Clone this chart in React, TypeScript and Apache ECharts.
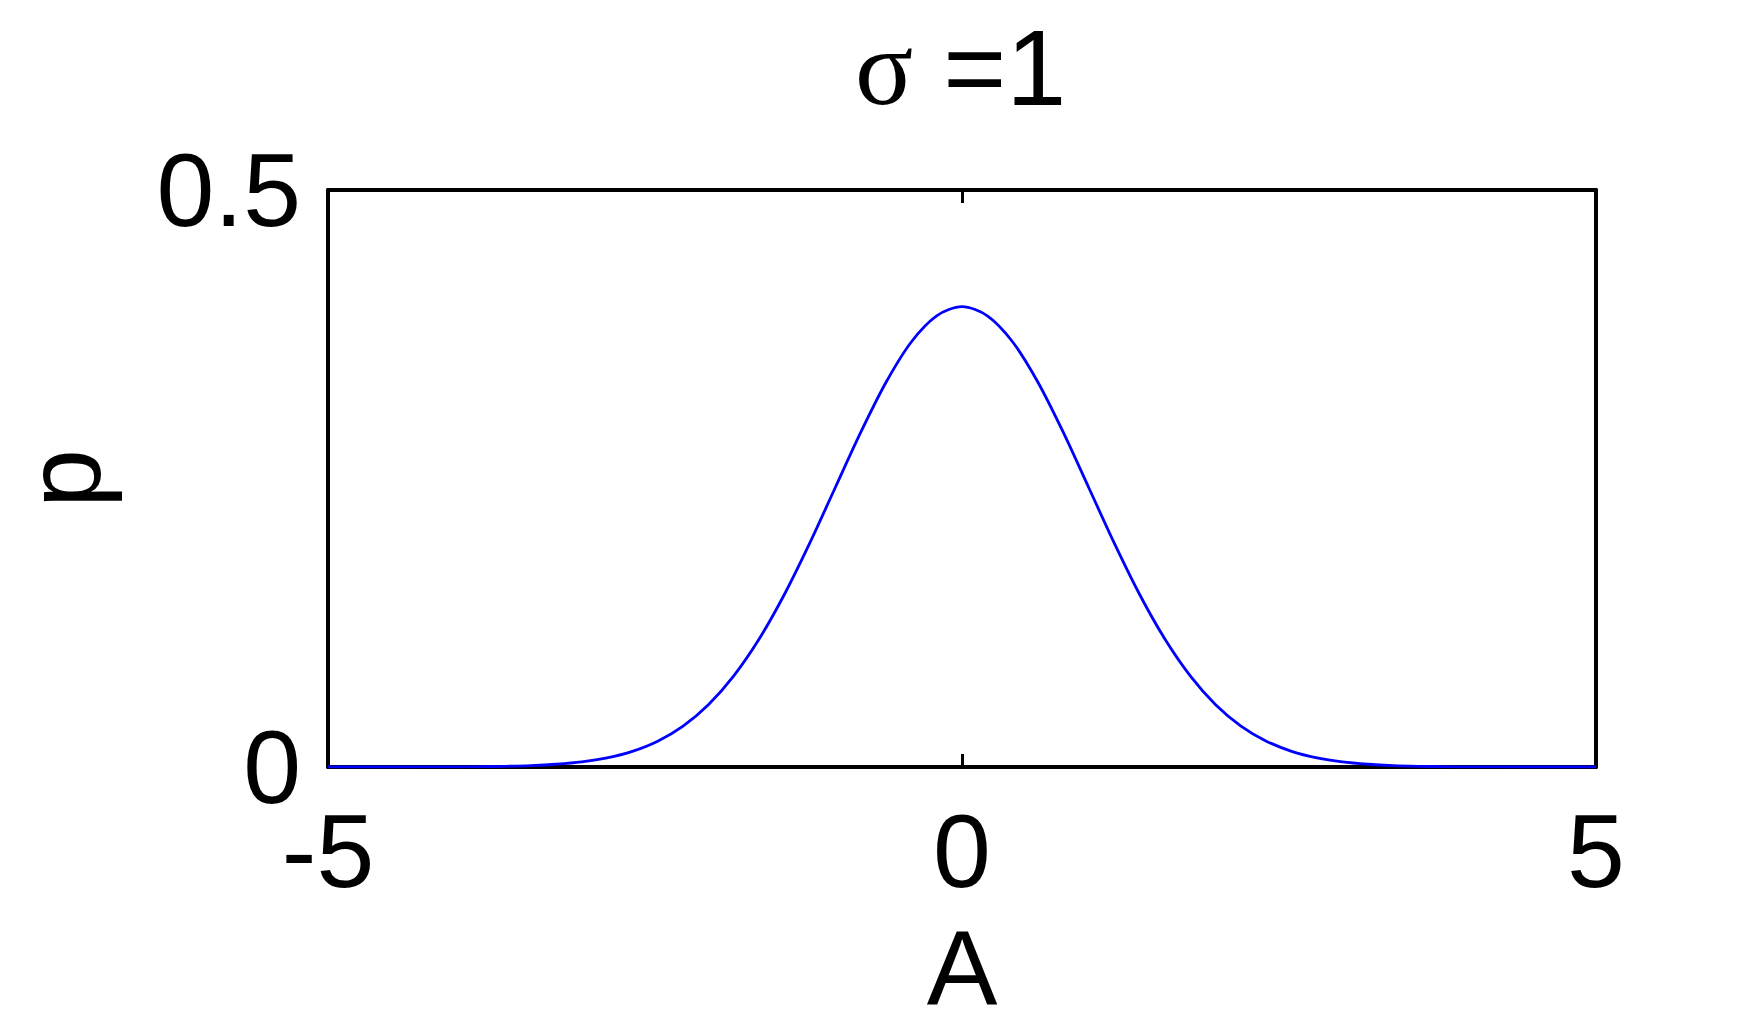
import * as echarts from 'echarts';
import { useEffect, useRef } from 'react';

// A values (x axis), step 0.2
const aValues = [
    -5.0, -4.8, -4.6, -4.4, -4.2, -4.0, -3.8, -3.6, -3.4, -3.2, -3.0, -2.8, -2.6, -2.4, -2.2, -2.0, -1.8,
    -1.6, -1.4, -1.2, -1.0, -0.8, -0.6, -0.4, -0.2, 0.0, 0.2, 0.4, 0.6, 0.8, 1.0, 1.2, 1.4, 1.6, 1.8, 2.0,
    2.2, 2.4, 2.6, 2.8, 3.0, 3.2, 3.4, 3.6, 3.8, 4.0, 4.2, 4.4, 4.6, 4.8, 5.0,
];

// p values
const pValues = [
    0.0, 0.0, 0.0, 0.0, 0.0001, 0.0001, 0.0003, 0.0006, 0.0012, 0.0024, 0.0044, 0.0079, 0.0136, 0.0224,
    0.0355, 0.054, 0.079, 0.1109, 0.1497, 0.1942, 0.242, 0.2897, 0.3332, 0.3683, 0.391, 0.3989, 0.391,
    0.3683, 0.3332, 0.2897, 0.242, 0.1942, 0.1497, 0.1109, 0.079, 0.054, 0.0355, 0.0224, 0.0136, 0.0079,
    0.0044, 0.0024, 0.0012, 0.0006, 0.0003, 0.0001, 0.0001, 0.0, 0.0, 0.0, 0.0,
];

const xTicks = [-5, 0, 5];
const yTicks = [0, 0.5];

const SANS = "'Liberation Sans', Arial, sans-serif";
const SERIF = "'Liberation Serif', 'Times New Roman', serif";

export default function App() {
    const chartRef = useRef<HTMLDivElement>(null);

    useEffect(() => {
        document.body.style.margin = '0';
        if (!chartRef.current) return;

        const chart = echarts.init(chartRef.current, null, { renderer: 'svg' });

        const axisLine = { show: true, onZero: false, lineStyle: { color: '#000', width: 4 } };
        const axisTick = { show: true, inside: true, length: 13, lineStyle: { color: '#000', width: 3 } };

        const option: echarts.EChartsOption = {
            animation: false,
            backgroundColor: '#fff',
            title: {
                text: '{s|σ}{n| =1}',
                left: 850,
                top: 8,
                textStyle: {
                    rich: {
                        s: { fontFamily: SERIF, fontSize: 108, fontWeight: 'normal', color: '#000' },
                        n: { fontFamily: SANS, fontSize: 108, fontWeight: 'normal', color: '#000' },
                    },
                },
            },
            grid: {
                left: 328,
                top: 190,
                width: 1268,
                height: 577,
                outerBoundsMode: 'none',
            } as any,
            xAxis: [
                {
                    type: 'value',
                    min: -5,
                    max: 5,
                    interval: 5,
                    position: 'bottom',
                    name: 'A',
                    nameLocation: 'middle',
                    nameGap: 147,
                    nameTextStyle: { fontFamily: SANS, fontSize: 106, color: '#000' },
                    axisLine,
                    axisTick,
                    splitLine: { show: false },
                    axisLabel: {
                        fontFamily: SANS,
                        fontSize: 104,
                        lineHeight: 80,
                        color: '#000',
                        margin: 44,
                        formatter: (v: number) => (xTicks.includes(v) ? String(v) : ''),
                    },
                },
                {
                    type: 'value',
                    min: -5,
                    max: 5,
                    interval: 5,
                    position: 'top',
                    axisLine,
                    axisTick,
                    splitLine: { show: false },
                    axisLabel: { show: false },
                },
            ],
            yAxis: [
                {
                    type: 'value',
                    min: 0,
                    max: 0.5,
                    interval: 0.5,
                    position: 'left',
                    name: 'p',
                    nameLocation: 'middle',
                    nameGap: 212,
                    nameRotate: 90,
                    nameTextStyle: { fontFamily: SANS, fontSize: 106, color: '#000' },
                    axisLine,
                    axisTick,
                    splitLine: { show: false },
                    axisLabel: {
                        fontFamily: SANS,
                        fontSize: 104,
                        lineHeight: 76,
                        color: '#000',
                        margin: 27,
                        formatter: (v: number) => (yTicks.includes(v) ? String(v) : ''),
                    },
                },
                {
                    type: 'value',
                    min: 0,
                    max: 0.5,
                    interval: 0.5,
                    position: 'right',
                    axisLine,
                    axisTick,
                    splitLine: { show: false },
                    axisLabel: { show: false },
                },
            ],
            series: [
                {
                    type: 'line',
                    xAxisIndex: 0,
                    yAxisIndex: 0,
                    data: aValues.map((a, i) => [a, pValues[i]]),
                    showSymbol: false,
                    smooth: 0.3,
                    lineStyle: { color: '#0000ff', width: 2.8 },
                    z: 1,
                },
            ],
        };

        chart.setOption(option);

        const handleResize = () => chart.resize();
        window.addEventListener('resize', handleResize);

        return () => {
            chart.dispose();
            window.removeEventListener('resize', handleResize);
        };
    }, []);

    return <div ref={chartRef} style={{ width: '1764px', height: '1032px' }} />;
}
